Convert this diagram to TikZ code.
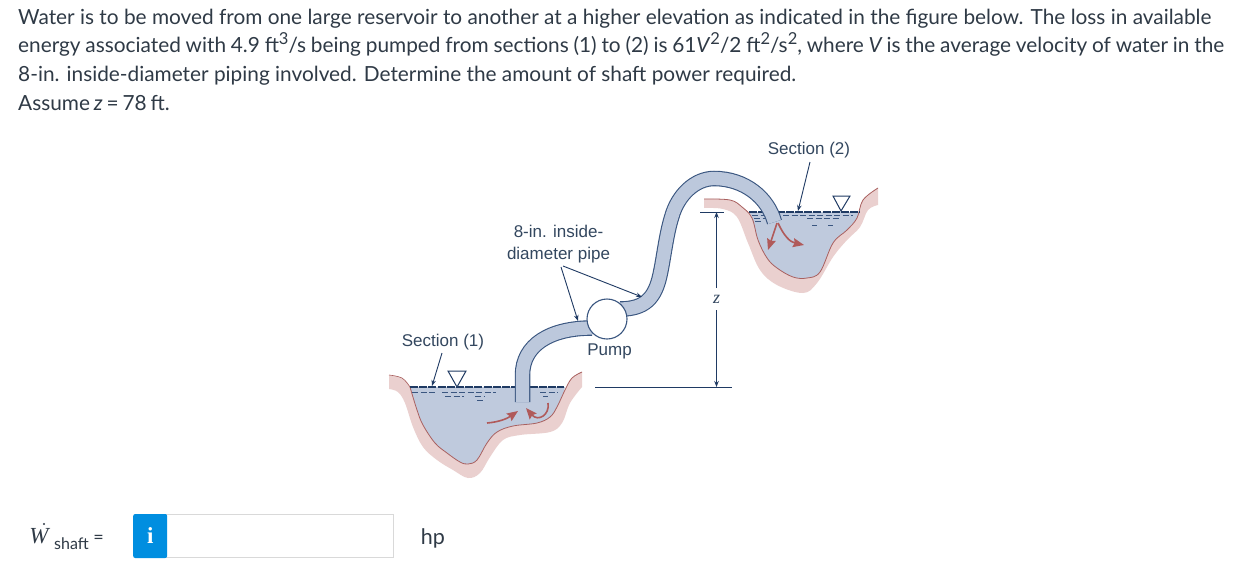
\documentclass[tikz,border=0pt]{standalone}
\usepackage{fontspec}
\setmainfont{Lato}
\newfontfamily\figfont{Liberation Sans}
\newfontfamily\serfont{Liberation Serif}
\usetikzlibrary{arrows.meta}
\definecolor{txt}{HTML}{2F3A46}
\definecolor{figtxt}{HTML}{33475F}
\definecolor{pipefill}{HTML}{BCC8DC}
\definecolor{wat}{HTML}{BFCADD}
\definecolor{pipeedge}{HTML}{3A5680}
\definecolor{navy}{HTML}{1F3A63}
\definecolor{bank}{HTML}{EAD0CF}
\definecolor{bankedge}{HTML}{A9605F}
\definecolor{redarrow}{HTML}{B05A5A}
\definecolor{infoblue}{HTML}{008EE0}
\newcommand{\supr}[1]{\raisebox{0.38em}{\fontsize{16.5}{16}\selectfont #1}}
\tikzset{
  para/.style={anchor=base west,inner sep=0pt,text=txt,font=\fontsize{20.82}{24}\selectfont},
  figlabel/.style={inner sep=0pt,text=figtxt,font=\figfont\fontsize{17}{22}\selectfont,align=center},
  leader/.style={draw=navy,line width=0.9pt,-{Stealth[length=6pt,width=4.5pt]}},
  flow/.style={draw=redarrow,line width=1.6pt,-{Stealth[length=11pt,width=9pt,inset=1.5pt]}},
  surface/.style={draw=navy,line width=1.1pt,dash pattern=on 8pt off 1.2pt},
  ripple/.style={draw=pipeedge,line width=0.8pt,dash pattern=on 6pt off 2.5pt},
  pipeouter/.style={draw=pipeedge,line width=15.5pt},
  pipeinner/.style={draw=pipefill,line width=13.3pt},
  dimline/.style={draw=navy,line width=1pt},
  trianglemark/.style={draw=navy,line width=1pt,fill=white},
}
\begin{document}
\begin{tikzpicture}[x=1pt,y=-1pt]
\useasboundingbox (0,0) rectangle (1255,571);
\fill[white] (0,0) rectangle (1255,571);
% text
\node[para] (l1) at (18,24) {Water is to be moved from one large reservoir to another at a higher elevation as indicated in the figure below. The loss in available};
\node[para] (l2) at (18,52) {\spaceskip=4.78pt energy associated with 4.9 ft\supr{3}/s being pumped from sections (1) to (2) is 61\textit{V}\supr{2}/2 ft\supr{2}/s\supr{2}, where \textit{V}\kern-1pt{} is the average velocity of water in the};
\node[para] (l3) at (18,81) {8-in. inside-diameter piping involved. Determine the amount of shaft power required.};
\node[para] (l4) at (18,110) {\spaceskip=3.9pt Assume \textit{z} = 78 ft.};
% left reservoir
\fill[bank] plot[smooth,tension=0.6] coordinates {(389,375)(402,378)(410,387)(417,410)(423,425)(435,443)(447,453)(460,462)(468,464)(477,460)(487,443)(497,432)(513,426)(537,423)(550,417)(557,407)(565,390)(572,378)(582,372)}
 -- (582,387) -- plot[smooth,tension=0.6] coordinates {(582,387)(570,403)(562,423)(550,432)(520,435)(503,440)(490,457)(480,473)(468,478)(453,470)(437,460)(423,447)(413,427)(405,403)(398,392)(389,389)} -- cycle;
\fill[wat] (410,387) -- plot[smooth,tension=0.6] coordinates {(410,387)(417,410)(423,425)(435,443)(447,453)(460,462)(468,464)(477,460)(487,443)(497,432)(513,426)(537,423)(550,417)(557,407)(564,391)} -- (565,387) -- cycle;
\draw[bankedge,line width=0.8pt] plot[smooth,tension=0.6] coordinates {(410,387)(417,410)(423,425)(435,443)(447,453)(460,462)(468,464)(477,460)(487,443)(497,432)(513,426)(537,423)(550,417)(557,407)(565,390)(572,378)(582,372)};
\draw[bankedge,line width=0.6pt] plot[smooth,tension=0.6] coordinates {(389,375)(402,378)(410,387)};
\draw[surface] (410,387) -- (564,387);
\draw[ripple] (412,392) -- (435,392);
\draw[ripple] (442,392) -- (496,392);
\draw[ripple] (540,392) -- (558,392);
\draw[ripple] (445,396) -- (464,396);
\draw[ripple] (475,396) -- (485,396);
\draw[ripple] (543,396) -- (548,396);
\draw[ripple] (477,400) -- (485,400);
% right reservoir
\fill[bank] plot[smooth,tension=0.6] coordinates {(704,199)(730,200)(742,207)(752,218)(758,240)(767,258)(777,268)(793,277)(807,278)(820,272)(833,243)(847,230)(857,218)(863,200)(878,188)}
 -- (878,205) -- plot[smooth,tension=0.6] coordinates {(878,205)(868,210)(860,227)(847,240)(833,257)(817,283)(803,293)(777,285)(760,270)(748,243)(737,217)(723,209)(704,208)} -- cycle;
\fill[wat] (749,212) -- plot[smooth,tension=0.6] coordinates {(749,212)(752,218)(758,240)(767,258)(777,268)(793,277)(807,278)(820,272)(833,243)(847,230)(857,218)(860,212)} -- cycle;
\draw[bankedge,line width=0.8pt] plot[smooth,tension=0.6] coordinates {(704,199)(730,200)(742,207)(752,218)(758,240)(767,258)(777,268)(793,277)(807,278)(820,272)(833,243)(847,230)(857,218)(863,200)(878,188)};
\draw[surface] (749,212) -- (860,212);
\draw[ripple] (752,215) -- (767,215);
\draw[ripple] (783,215) -- (853,215);
\draw[ripple] (754,218) -- (767,218);
\draw[ripple] (807,218) -- (840,218);
\draw[ripple] (755,221) -- (762,221);
\draw[ripple] (812,225) -- (817,225);
\draw[ripple] (828,225) -- (833,225);
% pipes
\def\leftpipe{(522.5,402) -- (522.5,375) .. controls (522.5,345) and (550,328) .. (592,328)}
\def\rightpipe{(620,309) .. controls (645,309) and (655,298) .. (660,275) .. controls (664,257) and (666,235) .. (672,216) .. controls (678,195) and (695,178.5) .. (714,178.5) .. controls (745,178.5) and (768,198) .. (774.5,222)}
\draw[pipeouter] \leftpipe;
\draw[pipeinner] \leftpipe;
\draw[pipeouter] \rightpipe;
\draw[pipeinner] \rightpipe;
% pump
\node[circle,draw=pipeedge,fill=white,line width=1.1pt,minimum size=40pt,inner sep=0pt] (pump) at (607,319) {};
% surface triangles
\draw[trianglemark] (448,371) -- (466,371) -- (457,387) -- cycle;
\draw[trianglemark] (833,196) -- (850,196) -- (841,211) -- cycle;
% flow arrows
\coordinate (fa1) at (487,423); \coordinate (fa2) at (518,411);
\draw[flow] (fa1) .. controls (500,422) and (508,418) .. (fa2);
\coordinate (fb1) at (548,403); \coordinate (fb2) at (526,408);
\draw[flow] (fb1) .. controls (550,415) and (538,422) .. (fb2);
\coordinate (fc1) at (777,223); \coordinate (fc2) at (768,250);
\draw[flow] (fc1) -- (fc2);
\coordinate (fd1) at (778,223); \coordinate (fd2) at (804,245);
\draw[flow] (fd1) .. controls (784,236) and (790,242) .. (fd2);
% labels and leaders
\node[figlabel] (sec1) at (443,342) {Section (1)};
\node[figlabel] (sec2) at (809,150) {Section (2)};
\node[figlabel] (pipelabel) at (558.5,244) {8-in. inside-\\diameter pipe};
\node[figlabel] (pumplabel) at (609.5,351) {Pump};
\coordinate (s1a) at (442,353); \coordinate (s1b) at (432,386);
\draw[leader] (s1a) -- (s1b);
\coordinate (s2a) at (810,162); \coordinate (s2b) at (798,211);
\draw[leader] (s2a) -- (s2b);
\coordinate (pa) at (561,267); \coordinate (pb) at (578,321); \coordinate (pc) at (563,266); \coordinate (pd) at (642,297);
\draw[leader] (pa) -- (pb);
\draw[leader] (pc) -- (pd);
% dimension z
\node[inner sep=0pt,text=figtxt,font=\serfont\itshape\fontsize{18}{18}\selectfont] (zlabel) at (716.5,299) {z};
\coordinate (ztop) at (716.5,212); \coordinate (zbot) at (716.5,387);
\coordinate (ztl) at (700,212); \coordinate (ztr) at (724,212);
\coordinate (zbl) at (595,387); \coordinate (zbr) at (732,387);
\coordinate (zgt) at (716.5,288); \coordinate (zgb) at (716.5,310);
\draw[dimline] (ztl) -- (ztr);
\draw[dimline] (zbl) -- (zbr);
\draw[leader] (zgt) -- (ztop);
\draw[leader] (zgb) -- (zbot);
% answer row
\node[inner sep=0pt,text=txt,font=\serfont\itshape\fontsize{23}{23}\selectfont,anchor=base] (wlabel) at (39,543) {W};
\fill[txt] (44,524) circle (1.2pt);
\node[inner sep=0pt,text=txt,font=\fontsize{16}{16}\selectfont,anchor=base west] (wsub) at (54,549) {shaft};
\node[inner sep=0pt,text=txt,font=\fontsize{18}{18}\selectfont,anchor=base] (eq) at (98.5,543) {=};
\draw[draw=black!15,line width=1pt,fill=white] (160,514.5) rectangle (393,557.5);
\node[draw=none,fill=infoblue,rounded corners=2pt,minimum width=34pt,minimum height=44pt,inner sep=0pt,anchor=west,
      text=white,font=\serfont\bfseries\fontsize{23}{23}\selectfont] (info) at (133,536) {i};
\node[inner sep=0pt,text=txt,font=\fontsize{21.5}{22}\selectfont,anchor=base] (hp) at (433,544) {hp};
\end{tikzpicture}
\end{document}
